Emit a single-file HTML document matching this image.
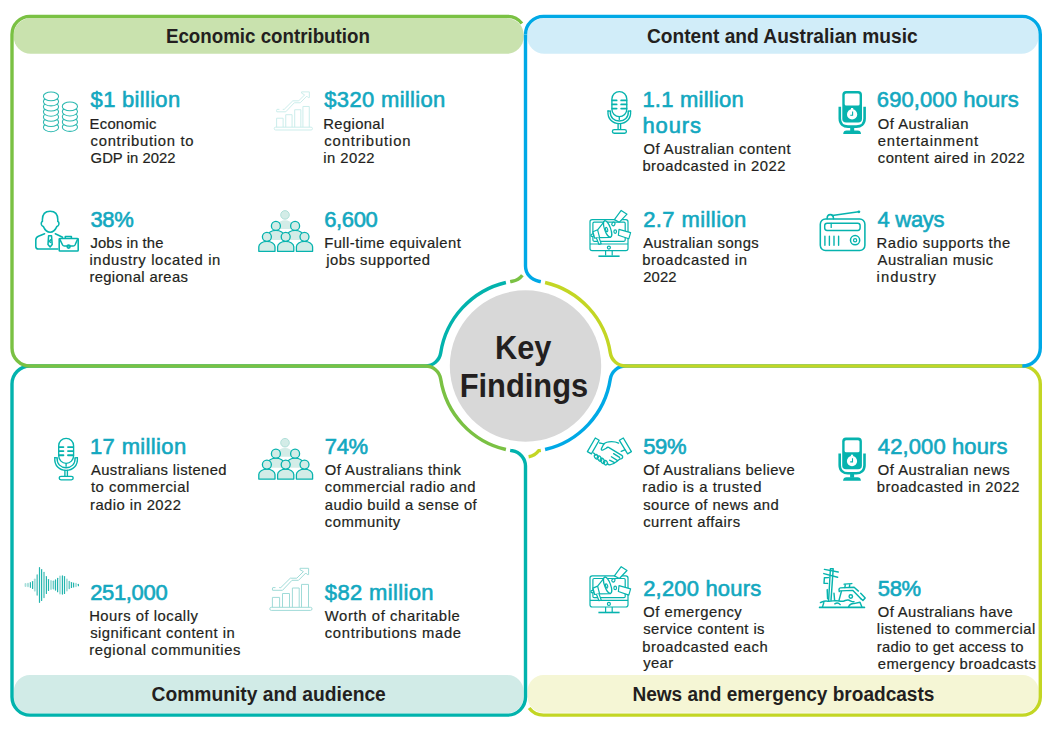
<!DOCTYPE html>
<html><head><meta charset="utf-8"><style>
html,body{margin:0;padding:0;background:#fff;}
body{width:1055px;height:730px;position:relative;overflow:hidden;font-family:"Liberation Sans",sans-serif;color:#231F20;}
.frame{position:absolute;left:0;top:0;}
.hl{position:absolute;font-size:22px;line-height:28px;font-weight:400;color:#13A8C0;letter-spacing:0.5px;white-space:nowrap;-webkit-text-stroke:0.6px #13A8C0;}
.bd{position:absolute;font-size:14.8px;line-height:20px;letter-spacing:0.72px;white-space:nowrap;-webkit-text-stroke:0.2px #231F20;}
.hdr{position:absolute;font-size:20px;line-height:20px;font-weight:700;white-space:nowrap;}
.key{position:absolute;font-size:34px;line-height:34px;font-weight:700;white-space:nowrap;}
</style></head><body>
<svg class="frame" width="1055" height="730" viewBox="0 0 1055 730">

<rect x="13.7" y="18.1" width="510" height="35.7" rx="17" fill="#C9E2AE"/>
<rect x="527.2" y="18.1" width="511.4" height="35.7" rx="17" fill="#D1EDF9"/>
<rect x="13.9" y="675.1" width="509.6" height="38.1" rx="16" fill="#D1EBE7"/>
<rect x="527.6" y="675.1" width="511" height="37.6" rx="16" fill="#F5F6D5"/>
<circle cx="525.5" cy="366.0" r="75.7" fill="#D8D8D8"/>

<g fill="none" stroke-width="3.4" stroke-linecap="butt" stroke-linejoin="round"><path d="M1022.3,366.0 A18.0,18.0 0 0 1 1040.3,384.0 L1040.3,697.1 A18.0,18.0 0 0 1 1022.3,715.1 L543.5,715.1 A18.0,18.0 0 0 1 529.12,707.93" stroke="#C3D624"/><path d="M30.0,366.0 L425.39,366.0 A15.5,15.5 0 0 0 440.71,352.87 A85.8,85.8 0 0 1 505.91,282.47" stroke="#02B3AD"/><path d="M30.0,366.0 A18.0,18.0 0 0 0 12.0,384.0 L12.0,697.1 A18.0,18.0 0 0 0 30.0,715.1 L507.5,715.1 A18.0,18.0 0 0 0 525.5,697.1 L525.5,466.11 A15.5,15.5 0 0 0 512.37,450.79 A85.8,85.8 0 0 1 510.16,450.42" stroke="#02B3AD"/><path d="M522.37,275.23 A15.5,15.5 0 0 1 512.37,281.21 A85.8,85.8 0 0 0 510.16,281.58" stroke="#7AC143"/><path d="M521.88,23.57 A18.0,18.0 0 0 0 507.50,16.4 L30.0,16.4 A18.0,18.0 0 0 0 12.0,34.4 L12.0,348.0 A18.0,18.0 0 0 0 30.0,366.0 L425.39,366.0 A15.5,15.5 0 0 1 440.71,379.13 A85.8,85.8 0 0 0 505.91,449.53" stroke="#7AC143"/><path d="M525.5,34.4 A18.0,18.0 0 0 1 543.5,16.4 L1022.3,16.4 A18.0,18.0 0 0 1 1040.3,34.4 L1040.3,348.0 A18.0,18.0 0 0 1 1022.3,366.0 L625.61,366.0 A15.5,15.5 0 0 0 610.29,379.13 A85.8,85.8 0 0 1 545.09,449.53" stroke="#00A9E6"/><path d="M525.5,34.4 L525.5,265.89 A15.5,15.5 0 0 0 538.63,281.21 A85.8,85.8 0 0 1 540.84,281.58" stroke="#00A9E6"/><path d="M1022.3,366.0 L625.61,366.0 A15.5,15.5 0 0 1 610.29,352.87 A85.8,85.8 0 0 0 545.09,282.47" stroke="#C3D624"/><path d="M528.63,456.77 A15.5,15.5 0 0 0 538.63,450.79 A85.8,85.8 0 0 0 540.84,450.42" stroke="#C3D624"/></g>
<g fill="#fff" stroke="#2BB8B0" stroke-width="1.05"><ellipse cx="51.0" cy="127.31" rx="7.6" ry="4.35"/><ellipse cx="51.0" cy="122.15" rx="7.6" ry="4.35"/><ellipse cx="51.0" cy="116.99" rx="7.6" ry="4.35"/><ellipse cx="51.0" cy="111.83" rx="7.6" ry="4.35"/><ellipse cx="51.0" cy="106.67" rx="7.6" ry="4.35"/><ellipse cx="51.0" cy="101.51" rx="7.6" ry="4.35"/><ellipse cx="51.0" cy="96.35" rx="7.6" ry="4.35"/><ellipse cx="69.9" cy="127.04" rx="7.6" ry="4.35"/><ellipse cx="69.9" cy="121.88" rx="7.6" ry="4.35"/><ellipse cx="69.9" cy="116.72" rx="7.6" ry="4.35"/><ellipse cx="69.9" cy="111.56" rx="7.6" ry="4.35"/><ellipse cx="69.9" cy="106.40" rx="7.6" ry="4.35"/></g>
<g fill="none" stroke="#A0DBD8" stroke-width="1.0" stroke-linejoin="round" transform="translate(265,564) scale(1.0)"><path d="M7.4,43.3 V33.4 H14.6 V43.3"/><path d="M17.5,43.3 V29.5 H24.5 V43.3"/><path d="M27.4,43.3 V24.0 H34.2 V43.3"/><path d="M36.5,43.3 V20.4 H43.5 V43.3"/><rect x="4.800000000000011" y="43.299999999999955" width="42.2" height="3.1" rx="1.5"/><path d="M10.5,23.600000000000023 H7.800000000000011 Q7.0,25 7.600000000000023,26.299999999999955 L17.5,26.3 L27.0,16.3 L33.5,16.3 L40.8,9.0 L42.3,10.6 L43.6,10.6 L43.6,4.3 L35.0,4.3 L35.0,5.7 L38.4,7.6 L31.8,14.2 L25.3,14.2 L15.8,23.6 L14.2,23.6"/></g>
<g fill="none" stroke="#CBEDEB" stroke-width="1.1" stroke-linejoin="round" transform="translate(269.899,88.0) scale(0.905)"><path d="M7.4,43.3 V33.4 H14.6 V43.3"/><path d="M17.5,43.3 V29.5 H24.5 V43.3"/><path d="M27.4,43.3 V24.0 H34.2 V43.3"/><path d="M36.5,43.3 V20.4 H43.5 V43.3"/><rect x="4.800000000000011" y="43.299999999999955" width="42.2" height="3.1" rx="1.5"/><path d="M10.5,23.600000000000023 H7.800000000000011 Q7.0,25 7.600000000000023,26.299999999999955 L17.5,26.3 L27.0,16.3 L33.5,16.3 L40.8,9.0 L42.3,10.6 L43.6,10.6 L43.6,4.3 L35.0,4.3 L35.0,5.7 L38.4,7.6 L31.8,14.2 L25.3,14.2 L15.8,23.6 L14.2,23.6"/></g>
<g fill="none" stroke="#06B3AE" stroke-width="1.55" stroke-linejoin="round" stroke-linecap="round">
<path d="M50.1,211.2 C44.8,211.2 42.4,214.8 42.4,219.6 L42.4,221.6 C41.2,221.8 41.0,223.6 41.6,225 C42.1,226 42.8,226.4 43.4,226.6 C44.6,229.4 47.2,232.2 50.1,232.2 C53.0,232.2 55.6,229.4 56.8,226.6 C57.4,226.4 58.1,226 58.6,225 C59.2,223.6 59.0,221.8 57.8,221.6 L57.8,219.6 C57.8,214.8 55.4,211.2 50.1,211.2 Z"/>
<path d="M44.6,233.8 L38.4,236.2 C36.6,236.9 35.8,238 35.8,240 L35.8,246.4 C35.8,248 36.9,249 38.5,249 L57.8,249"/>
<path d="M55.3,233.8 L62.6,237.2"/>
<path d="M48.6,235.8 H51.5 L52.2,244.6 L50.1,247 L48.0,244.6 Z"/>
<path d="M50.9,239.8 C49.3,240.6 49.3,241.8 50.6,242.4"/>
<rect x="59.2" y="238.4" width="19" height="12.6" rx="0.8"/>
<path d="M65.3,238.3 V236.4 H71.4 V238.3"/>
<path d="M59.6,238.8 L62.6,245 C63,245.8 63.6,246 64.4,246 H73.2 C74,246 74.6,245.8 75,245 L77.8,238.8"/>
<circle cx="68.6" cy="246.6" r="1.5"/>
</g>
<g transform="translate(0.00,0.00)"><circle cx="285" cy="214.9" r="4.3" fill="#D3ECE7" stroke="#A9DCD6" stroke-width="0.9"/><path d="M278.2,229 V224.5 A6.8,4.2 0 0 1 291.8,224.5 V229 Z" fill="#D3ECE7"/><path d="M267.7,240.0 V235.6 A8.2,5.2 0 0 1 284.09999999999997,235.6 V240.0 Z" fill="#D3ECE7"/><path d="M267.7,238.0 V235.6 A8.2,5.2 0 0 1 284.09999999999997,235.6 V238.0" fill="none" stroke="#06B3AE" stroke-width="1.2"/><path d="M286.90000000000003,240.0 V235.6 A8.2,5.2 0 0 1 303.3,235.6 V240.0 Z" fill="#D3ECE7"/><path d="M286.90000000000003,238.0 V235.6 A8.2,5.2 0 0 1 303.3,235.6 V238.0" fill="none" stroke="#06B3AE" stroke-width="1.2"/><circle cx="275.9" cy="225.9" r="4.5" fill="#D3ECE7" stroke="#06B3AE" stroke-width="1.3"/><circle cx="295.1" cy="225.9" r="4.5" fill="#D3ECE7" stroke="#06B3AE" stroke-width="1.3"/><path d="M258.79999999999995,251.3 V246.8 A8.1,5.4 0 0 1 275.0,246.8 V251.3 Z" fill="#D3ECE7" stroke="#06B3AE" stroke-width="1.3" stroke-linejoin="round"/><circle cx="266.9" cy="236.8" r="4.5" fill="#D3ECE7" stroke="#06B3AE" stroke-width="1.3"/><path d="M277.59999999999997,251.3 V246.8 A8.1,5.4 0 0 1 293.8,246.8 V251.3 Z" fill="#D3ECE7" stroke="#06B3AE" stroke-width="1.3" stroke-linejoin="round"/><circle cx="285.7" cy="236.8" r="4.5" fill="#D3ECE7" stroke="#06B3AE" stroke-width="1.3"/><path d="M296.4,251.3 V246.8 A8.1,5.4 0 0 1 312.6,246.8 V251.3 Z" fill="#D3ECE7" stroke="#06B3AE" stroke-width="1.3" stroke-linejoin="round"/><circle cx="304.5" cy="236.8" r="4.5" fill="#D3ECE7" stroke="#06B3AE" stroke-width="1.3"/></g>
<g transform="translate(0.00,227.80)"><circle cx="285" cy="214.9" r="4.3" fill="#D3ECE7" stroke="#A9DCD6" stroke-width="0.9"/><path d="M278.2,229 V224.5 A6.8,4.2 0 0 1 291.8,224.5 V229 Z" fill="#D3ECE7"/><path d="M267.7,240.0 V235.6 A8.2,5.2 0 0 1 284.09999999999997,235.6 V240.0 Z" fill="#D3ECE7"/><path d="M267.7,238.0 V235.6 A8.2,5.2 0 0 1 284.09999999999997,235.6 V238.0" fill="none" stroke="#06B3AE" stroke-width="1.2"/><path d="M286.90000000000003,240.0 V235.6 A8.2,5.2 0 0 1 303.3,235.6 V240.0 Z" fill="#D3ECE7"/><path d="M286.90000000000003,238.0 V235.6 A8.2,5.2 0 0 1 303.3,235.6 V238.0" fill="none" stroke="#06B3AE" stroke-width="1.2"/><circle cx="275.9" cy="225.9" r="4.5" fill="#D3ECE7" stroke="#06B3AE" stroke-width="1.3"/><circle cx="295.1" cy="225.9" r="4.5" fill="#D3ECE7" stroke="#06B3AE" stroke-width="1.3"/><path d="M258.79999999999995,251.3 V246.8 A8.1,5.4 0 0 1 275.0,246.8 V251.3 Z" fill="#D3ECE7" stroke="#06B3AE" stroke-width="1.3" stroke-linejoin="round"/><circle cx="266.9" cy="236.8" r="4.5" fill="#D3ECE7" stroke="#06B3AE" stroke-width="1.3"/><path d="M277.59999999999997,251.3 V246.8 A8.1,5.4 0 0 1 293.8,246.8 V251.3 Z" fill="#D3ECE7" stroke="#06B3AE" stroke-width="1.3" stroke-linejoin="round"/><circle cx="285.7" cy="236.8" r="4.5" fill="#D3ECE7" stroke="#06B3AE" stroke-width="1.3"/><path d="M296.4,251.3 V246.8 A8.1,5.4 0 0 1 312.6,246.8 V251.3 Z" fill="#D3ECE7" stroke="#06B3AE" stroke-width="1.3" stroke-linejoin="round"/><circle cx="304.5" cy="236.8" r="4.5" fill="#D3ECE7" stroke="#06B3AE" stroke-width="1.3"/></g>
<g transform="translate(607.2,90.9) scale(1.0) translate(-607.2,-90.9)" fill="none" stroke="#06B3AE" stroke-width="1.35" stroke-linecap="round"><rect x="611.9" y="91.6" width="14.9" height="25.0" rx="7.45"/><path d="M612.3,100.4 H616.6 M621.2,100.4 H626.4" stroke-width="1.9"/><path d="M612.3,104.4 H616.6 M621.2,104.4 H626.4" stroke-width="1.9"/><path d="M612.3,108.6 H616.6 M621.2,108.6 H626.4" stroke-width="1.9"/><path d="M608.0,111 C607.4,119 612.5,123.6 619.3,123.6 C626.1,123.6 631.2,119 630.6,111"/><path d="M610.3,111.2 C610.0,117.4 614,121.0 619.3,121.0 C624.6,121.0 628.6,117.4 628.3,111.2"/><path d="M608.0,111 L610.3,111.2 M630.6,111 L628.3,111.2"/><path d="M619.3,117 V119.5"/><path d="M618.1,123.8 V129.4 M620.6,123.8 V129.4"/><rect x="612.4" y="129.6" width="14" height="3.6" rx="1.8"/></g>
<g transform="translate(54.0,437.6) scale(1.0) translate(-607.2,-90.9)" fill="none" stroke="#06B3AE" stroke-width="1.35" stroke-linecap="round"><rect x="611.9" y="91.6" width="14.9" height="25.0" rx="7.45"/><path d="M612.3,100.4 H616.6 M621.2,100.4 H626.4" stroke-width="1.9"/><path d="M612.3,104.4 H616.6 M621.2,104.4 H626.4" stroke-width="1.9"/><path d="M612.3,108.6 H616.6 M621.2,108.6 H626.4" stroke-width="1.9"/><path d="M608.0,111 C607.4,119 612.5,123.6 619.3,123.6 C626.1,123.6 631.2,119 630.6,111"/><path d="M610.3,111.2 C610.0,117.4 614,121.0 619.3,121.0 C624.6,121.0 628.6,117.4 628.3,111.2"/><path d="M608.0,111 L610.3,111.2 M630.6,111 L628.3,111.2"/><path d="M619.3,117 V119.5"/><path d="M618.1,123.8 V129.4 M620.6,123.8 V129.4"/><rect x="612.4" y="129.6" width="14" height="3.6" rx="1.8"/></g>
<g transform="translate(0.00,0.00)"><rect x="842.3" y="90.9" width="19.7" height="31.7" rx="3.8" fill="#06B3AE"/><rect x="844.7" y="93.5" width="14.9" height="12" rx="1.5" fill="#fff"/><circle cx="852.1" cy="114.4" r="5.1" fill="#fff"/><rect x="851.0" y="108.0" width="2.2" height="2.2" fill="#fff"/><path d="M852.6,111.6 V115.2 H850.3" fill="none" stroke="#06B3AE" stroke-width="1.1"/><path d="M839.8,106.8 V118.5 C839.8,124.2 843.6,126.6 848,126.6 H856.4 C860.8,126.6 864.6,124.2 864.6,118.5 V106.8" fill="none" stroke="#06B3AE" stroke-width="2.6"/><rect x="850.2" y="126" width="4" height="5" fill="#06B3AE"/><path d="M843.2,134.1 C843.2,131.6 844.6,130.6 846.6,130.6 H857.6 C859.6,130.6 861.0,131.6 861.0,134.1 Z" fill="#06B3AE"/></g>
<g transform="translate(-0.10,346.70)"><rect x="842.3" y="90.9" width="19.7" height="31.7" rx="3.8" fill="#06B3AE"/><rect x="844.7" y="93.5" width="14.9" height="12" rx="1.5" fill="#fff"/><circle cx="852.1" cy="114.4" r="5.1" fill="#fff"/><rect x="851.0" y="108.0" width="2.2" height="2.2" fill="#fff"/><path d="M852.6,111.6 V115.2 H850.3" fill="none" stroke="#06B3AE" stroke-width="1.1"/><path d="M839.8,106.8 V118.5 C839.8,124.2 843.6,126.6 848,126.6 H856.4 C860.8,126.6 864.6,124.2 864.6,118.5 V106.8" fill="none" stroke="#06B3AE" stroke-width="2.6"/><rect x="850.2" y="126" width="4" height="5" fill="#06B3AE"/><path d="M843.2,134.1 C843.2,131.6 844.6,130.6 846.6,130.6 H857.6 C859.6,130.6 861.0,131.6 861.0,134.1 Z" fill="#06B3AE"/></g>
<g transform="translate(0.00,0.00)" fill="none" stroke="#06B3AE" stroke-width="1.2" stroke-linejoin="round"><rect x="590.0" y="219.6" width="38.0" height="31.1" rx="2.2"/><rect x="592.9" y="222.2" width="32.3" height="19.1" rx="1.2"/><path d="M590.0,244.0 H628.0"/><circle cx="608.9" cy="247.6" r="1.5"/><path d="M605.6,250.7 V255.6 M612.2,250.7 V255.6"/><path d="M598.4,256.2 H619.6" stroke-width="1.6"/><path d="M605.0,220.6 L597.6,229.8 L593.0,231.8 L594.6,238.2 L599.6,237.6 L610.4,237.4 Z" fill="#fff"/><ellipse cx="607.6" cy="229.0" rx="3.0" ry="8.6" transform="rotate(-20 607.6 229)" fill="#fff"/><ellipse cx="606.6" cy="229.6" rx="1.0" ry="2.2" transform="rotate(-20 606.6 229.6)"/><path d="M597.6,229.8 L599.6,237.6"/><circle cx="592.3" cy="235.3" r="1.3" fill="#fff"/><path d="M596.4,238.0 L599.0,244.4 L601.2,243.6 L599.0,237.6" fill="#fff"/><path d="M614.4,219.6 L621.2,210.4 L627.0,214.2 L619.4,222.2 Z" fill="#fff"/><ellipse cx="613.4" cy="224.0" rx="1.5" ry="1.8" transform="rotate(35 613.4 224)" fill="#fff"/><path d="M619.0,229.4 L630.6,232.6 L628.8,238.8 L618.4,235.2 Z" fill="#fff"/><ellipse cx="615.2" cy="231.6" rx="1.3" ry="1.8" fill="#fff"/></g>
<g transform="translate(0.00,356.30)" fill="none" stroke="#06B3AE" stroke-width="1.2" stroke-linejoin="round"><rect x="590.0" y="219.6" width="38.0" height="31.1" rx="2.2"/><rect x="592.9" y="222.2" width="32.3" height="19.1" rx="1.2"/><path d="M590.0,244.0 H628.0"/><circle cx="608.9" cy="247.6" r="1.5"/><path d="M605.6,250.7 V255.6 M612.2,250.7 V255.6"/><path d="M598.4,256.2 H619.6" stroke-width="1.6"/><path d="M605.0,220.6 L597.6,229.8 L593.0,231.8 L594.6,238.2 L599.6,237.6 L610.4,237.4 Z" fill="#fff"/><ellipse cx="607.6" cy="229.0" rx="3.0" ry="8.6" transform="rotate(-20 607.6 229)" fill="#fff"/><ellipse cx="606.6" cy="229.6" rx="1.0" ry="2.2" transform="rotate(-20 606.6 229.6)"/><path d="M597.6,229.8 L599.6,237.6"/><circle cx="592.3" cy="235.3" r="1.3" fill="#fff"/><path d="M596.4,238.0 L599.0,244.4 L601.2,243.6 L599.0,237.6" fill="#fff"/><path d="M614.4,219.6 L621.2,210.4 L627.0,214.2 L619.4,222.2 Z" fill="#fff"/><ellipse cx="613.4" cy="224.0" rx="1.5" ry="1.8" transform="rotate(35 613.4 224)" fill="#fff"/><path d="M619.0,229.4 L630.6,232.6 L628.8,238.8 L618.4,235.2 Z" fill="#fff"/><ellipse cx="615.2" cy="231.6" rx="1.3" ry="1.8" fill="#fff"/></g>
<g fill="none" stroke="#06B3AE" stroke-width="1.55" stroke-linecap="round">
<rect x="820.3" y="219.0" width="44.6" height="31.5" rx="5.2"/>
<rect x="824.7" y="223.2" width="35.4" height="7.2" rx="2.4" stroke-width="1.45"/>
<path d="M831.2,223.4 V227.4" stroke-width="1.3"/>
<path d="M824.9,236.2 V245.2 M829.4,236.2 V245.2 M834.0,236.2 V245.2 M838.6,236.2 V245.2" stroke-width="1.4"/>
<circle cx="855.1" cy="240.2" r="4.6" stroke-width="1.5"/>
<circle cx="855.1" cy="240.2" r="1.6" stroke-width="1.2"/>
<path d="M827.1,218.8 C827.1,215.9 828.6,214.6 830.3,214.6 C832.0,214.6 833.5,215.9 833.5,218.8"/>
<path d="M832.3,215.6 L858.6,211.8"/>
</g>
<circle cx="858.9" cy="211.8" r="1.4" fill="#06B3AE"/>
<g stroke-linecap="round"><path d="M25.5,584.0 V586.0" stroke="#A6DEDA" stroke-width="1.8"/><path d="M28,583.7 V586.3" stroke="#A6DEDA" stroke-width="1.8"/><path d="M30.4,582.7 V587.3" stroke="#24B5AE" stroke-width="1.2"/><path d="M32.6,581.5 V588.5" stroke="#24B5AE" stroke-width="1.2"/><path d="M34.8,579.3 V590.7" stroke="#A6DEDA" stroke-width="1.8"/><path d="M37.2,575.0 V595.0" stroke="#6CCBC6" stroke-width="1.6"/><path d="M39.5,567.7 V602.3" stroke="#24B5AE" stroke-width="1.2"/><path d="M41.6,569.5 V600.5" stroke="#24B5AE" stroke-width="1.2"/><path d="M44,572.5 V597.5" stroke="#6CCBC6" stroke-width="1.6"/><path d="M46.4,576.5 V593.5" stroke="#24B5AE" stroke-width="1.2"/><path d="M48.5,579.6 V590.4" stroke="#24B5AE" stroke-width="1.2"/><path d="M51,581.0 V589.0" stroke="#A6DEDA" stroke-width="1.8"/><path d="M53.4,581.3 V588.7" stroke="#6CCBC6" stroke-width="1.6"/><path d="M55.5,579.9 V590.1" stroke="#24B5AE" stroke-width="1.2"/><path d="M57.6,578.3 V591.7" stroke="#24B5AE" stroke-width="1.2"/><path d="M60,576.5 V593.5" stroke="#A6DEDA" stroke-width="1.8"/><path d="M62.4,575.9 V594.1" stroke="#24B5AE" stroke-width="1.2"/><path d="M64.5,576.5 V593.5" stroke="#24B5AE" stroke-width="1.2"/><path d="M66.9,579.5 V590.5" stroke="#A6DEDA" stroke-width="1.8"/><path d="M69.3,581.5 V588.5" stroke="#6CCBC6" stroke-width="1.6"/><path d="M71.5,582.5 V587.5" stroke="#24B5AE" stroke-width="1.2"/><path d="M73.6,583.1 V586.9" stroke="#24B5AE" stroke-width="1.2"/><path d="M76,583.7 V586.3" stroke="#A6DEDA" stroke-width="1.8"/><path d="M78.4,584.3 V585.7" stroke="#24B5AE" stroke-width="1.2"/></g>
<g fill="none" stroke="#06B3AE" stroke-width="1.3" stroke-linejoin="round" stroke-linecap="round">
<path d="M595.3,438.0 L599.2,440.3 L591.4,453.9 L587.4,451.6 Z"/>
<path d="M623.3,438.0 L619.4,440.3 L627.6,453.9 L631.4,451.6 Z"/>
<path d="M599.6,443.0 C601.2,443.2 602.6,443.6 603.8,444.0"/>
<path d="M603.8,444.0 C605.5,442.2 608.5,441.6 611.5,441.6 C614.5,441.6 617.2,442.4 618.6,443.1"/>
<path d="M603.8,444.0 L601.4,448.6 C601.0,449.8 601.8,450.4 603.0,450.0 L606.2,448.2 C607.0,447.4 608.2,447.0 609.0,447.6 L621.8,455.4 C623.2,456.4 622.8,458.0 621.6,458.6 L619.6,459.2"/>
<path d="M621.2,451.4 L624.8,449.8"/>
<path d="M613.6,453.6 L619.6,457.4 M611.4,456.8 L617.6,460.6 M609.6,460.2 L614.6,462.6"/>
<path d="M619.6,459.2 L616.4,461.8 C614.2,463.6 611.8,464.6 609.8,464.8 C608.8,464.8 607.8,464.4 607.2,463.8"/>
<path d="M593.6,453.0 L596.0,455.2"/>
<rect x="594.6" y="454.4" width="3.4" height="4.6" rx="1.7" transform="rotate(-35 596.3 456.7)"/>
<rect x="597.8" y="455.8" width="3.4" height="5.6" rx="1.7" transform="rotate(-35 599.5 458.6)"/>
<rect x="600.8" y="458.0" width="3.4" height="5.6" rx="1.7" transform="rotate(-35 602.5 460.8)"/>
<rect x="603.8" y="460.4" width="3.4" height="4.6" rx="1.7" transform="rotate(-35 605.5 462.7)"/>
</g>
<g fill="none" stroke="#06B3AE" stroke-width="1.45" stroke-linecap="round" stroke-linejoin="round">
<path d="M819.6,607.4 H864.4" stroke-width="1.7"/>
<path d="M830.4,568.8 L828.6,601.0 M833.2,568.8 L831.0,600.4 M830.4,568.8 H833.2"/>
<path d="M824.4,569.4 L838.2,572.0 M823.8,573.6 L837.6,577.2"/>
<path d="M828.4,577.6 L824.4,577.8 L824.0,583.2 L827.6,583.4"/>
<path d="M827.2,589.6 L827.6,598.8"/>
<path d="M834.0,593.2 L834.6,600.2"/>
<path d="M820.4,602.6 C822.8,601.6 824.8,600.6 826.6,601.0 C829.8,601.6 832.6,600.8 835.8,600.6 C838.6,600.6 840.8,601.8 843.2,601.2 C845.2,600.8 846.2,599.6 848.2,600.0 C850.2,600.4 851.2,601.8 854.0,601.8"/>
<path d="M823.8,602.6 L822.6,606.6"/>
<path d="M834.8,603.8 C836.6,602.6 838.6,602.6 840.2,604.6"/>
<path d="M848.6,606.8 C849.6,604.6 851.4,603.4 853.8,603.6 L860.0,602.2 L861.8,606.8"/>
<path d="M839.3,591.6 L839.0,589.4 Q839.0,588.0 840.4,587.9 L854.1,587.3 L858.4,591.1"/>
<path d="M840.3,590.9 L852.9,590.4 L861.4,599.2"/>
<path d="M841.4,591.4 L839.0,600.4"/>
<path d="M844.1,584.1 L851.8,583.6 M845.3,584.3 L844.9,587.5 M849.8,584.0 L849.4,587.3"/>
<path d="M860.7,593.3 L865.2,597.9 L862.9,600.4 L861.4,599.2"/>
<circle cx="850.8" cy="596.5" r="1.7"/>
</g>
</svg>
<div class="hdr" style="left:159.45px;top:26px;transform-origin:109.0px 0;transform:scaleX(0.9366)">Economic contribution</div><div class="hdr" style="left:641.30px;top:26px;transform-origin:141.5px 0;transform:scaleX(0.958)">Content and Australian music</div><div class="hdr" style="left:146.75px;top:684px;transform-origin:122.0px 0;transform:scaleX(0.9624)">Community and audience</div><div class="hdr" style="left:624.75px;top:684px;transform-origin:158.5px 0;transform:scaleX(0.9533)">News and emergency broadcasts</div>
<div class="key" style="left:492.05px;top:330px;transform-origin:32.0px 0;transform:scaleX(0.905)">Key</div><div class="key" style="left:452.65px;top:368px;transform-origin:71.5px 0;transform:scaleX(0.9072)">Findings</div>
<div class="hl" style="left:90.6px;top:86.0px;letter-spacing:0.300px">$1 billion</div><div class="bd" style="left:89.6px;top:114.0px;letter-spacing:0.257px">Economic</div><div class="bd" style="left:90.6px;top:131.0px;letter-spacing:0.707px">contribution to</div><div class="bd" style="left:90.6px;top:148.0px;letter-spacing:0.040px">GDP in 2022</div><div class="hl" style="left:324.3px;top:86.0px;letter-spacing:0.327px">$320 million</div><div class="bd" style="left:323.3px;top:114.0px;letter-spacing:0.357px">Regional</div><div class="bd" style="left:324.3px;top:131.0px;letter-spacing:0.882px">contribution</div><div class="bd" style="left:323.3px;top:148.0px;letter-spacing:0.450px">in 2022</div><div class="hl" style="left:90.4px;top:206.0px;letter-spacing:-0.350px">38%</div><div class="bd" style="left:90.4px;top:233.0px;letter-spacing:0.140px">Jobs in the</div><div class="bd" style="left:89.4px;top:250.0px;letter-spacing:0.650px">industry located in</div><div class="bd" style="left:89.4px;top:267.0px;letter-spacing:0.362px">regional areas</div><div class="hl" style="left:324.2px;top:206.0px;letter-spacing:-0.350px">6,600</div><div class="bd" style="left:324.2px;top:233.0px;letter-spacing:0.437px">Full-time equivalent</div><div class="bd" style="left:326.2px;top:250.0px;letter-spacing:0.515px">jobs supported</div><div class="hl" style="left:642.4px;top:86.0px;letter-spacing:0.240px">1.1 million</div><div class="hl" style="left:642.4px;top:112.0px;letter-spacing:0.900px">hours</div><div class="bd" style="left:643.4px;top:139.0px;letter-spacing:0.490px">Of Australian content</div><div class="bd" style="left:642.4px;top:156.0px;letter-spacing:0.494px">broadcasted in 2022</div><div class="hl" style="left:876.8px;top:86.0px;letter-spacing:0.100px">690,000 hours</div><div class="bd" style="left:877.8px;top:114.0px;letter-spacing:0.500px">Of Australian</div><div class="bd" style="left:877.8px;top:131.0px;letter-spacing:0.825px">entertainment</div><div class="bd" style="left:877.8px;top:148.0px;letter-spacing:0.435px">content aired in 2022</div><div class="hl" style="left:643.2px;top:206.0px;letter-spacing:0.410px">2.7 million</div><div class="bd" style="left:643.2px;top:233.0px;letter-spacing:0.407px">Australian songs</div><div class="bd" style="left:642.2px;top:250.0px;letter-spacing:0.585px">broadcasted in</div><div class="bd" style="left:643.2px;top:267.0px;letter-spacing:0.133px">2022</div><div class="hl" style="left:877.6px;top:206.0px;letter-spacing:-0.300px">4 ways</div><div class="bd" style="left:876.6px;top:233.0px;letter-spacing:0.559px">Radio supports the</div><div class="bd" style="left:877.6px;top:250.0px;letter-spacing:0.473px">Australian music</div><div class="bd" style="left:876.6px;top:267.0px;letter-spacing:1.057px">industry</div><div class="hl" style="left:90.0px;top:433.0px;letter-spacing:0.356px">17 million</div><div class="bd" style="left:91.0px;top:460.0px;letter-spacing:0.379px">Australians listened</div><div class="bd" style="left:91.0px;top:477.0px;letter-spacing:0.508px">to commercial</div><div class="bd" style="left:90.0px;top:495.0px;letter-spacing:0.450px">radio in 2022</div><div class="hl" style="left:324.8px;top:433.0px;letter-spacing:-0.350px">74%</div><div class="bd" style="left:324.8px;top:460.0px;letter-spacing:0.458px">Of Australians think</div><div class="bd" style="left:324.8px;top:477.0px;letter-spacing:0.484px">commercial radio and</div><div class="bd" style="left:324.8px;top:495.0px;letter-spacing:0.376px">audio build a sense of</div><div class="bd" style="left:324.8px;top:512.0px;letter-spacing:0.481px">community</div><div class="hl" style="left:90.2px;top:579.0px;letter-spacing:-0.350px">251,000</div><div class="bd" style="left:89.2px;top:606.0px;letter-spacing:0.500px">Hours of locally</div><div class="bd" style="left:90.2px;top:623.0px;letter-spacing:0.500px">significant content in</div><div class="bd" style="left:89.2px;top:640.0px;letter-spacing:0.600px">regional communities</div><div class="hl" style="left:324.8px;top:579.0px;letter-spacing:0.350px">$82 million</div><div class="bd" style="left:324.8px;top:606.0px;letter-spacing:0.617px">Worth of charitable</div><div class="bd" style="left:324.8px;top:623.0px;letter-spacing:0.659px">contributions made</div><div class="hl" style="left:643.2px;top:433.0px;letter-spacing:-0.350px">59%</div><div class="bd" style="left:643.2px;top:460.0px;letter-spacing:0.405px">Of Australians believe</div><div class="bd" style="left:642.2px;top:477.0px;letter-spacing:0.576px">radio is a trusted</div><div class="bd" style="left:643.2px;top:495.0px;letter-spacing:0.424px">source of news and</div><div class="bd" style="left:643.2px;top:512.0px;letter-spacing:0.481px">current affairs</div><div class="hl" style="left:877.8px;top:433.0px;letter-spacing:0.109px">42,000 hours</div><div class="bd" style="left:877.8px;top:460.0px;letter-spacing:0.494px">Of Australian news</div><div class="bd" style="left:876.8px;top:477.0px;letter-spacing:0.483px">broadcasted in 2022</div><div class="hl" style="left:643.2px;top:575.0px;letter-spacing:0.180px">2,200 hours</div><div class="bd" style="left:643.2px;top:602.0px;letter-spacing:0.509px">Of emergency</div><div class="bd" style="left:643.2px;top:619.0px;letter-spacing:0.412px">service content is</div><div class="bd" style="left:642.2px;top:637.0px;letter-spacing:0.520px">broadcasted each</div><div class="bd" style="left:643.2px;top:653.0px;letter-spacing:0.367px">year</div><div class="hl" style="left:877.8px;top:575.0px;letter-spacing:-0.350px">58%</div><div class="bd" style="left:877.8px;top:602.0px;letter-spacing:0.372px">Of Australians have</div><div class="bd" style="left:876.8px;top:619.0px;letter-spacing:0.543px">listened to commercial</div><div class="bd" style="left:876.8px;top:637.0px;letter-spacing:0.286px">radio to get access to</div><div class="bd" style="left:877.8px;top:654.0px;letter-spacing:0.447px">emergency broadcasts</div>
</body></html>
